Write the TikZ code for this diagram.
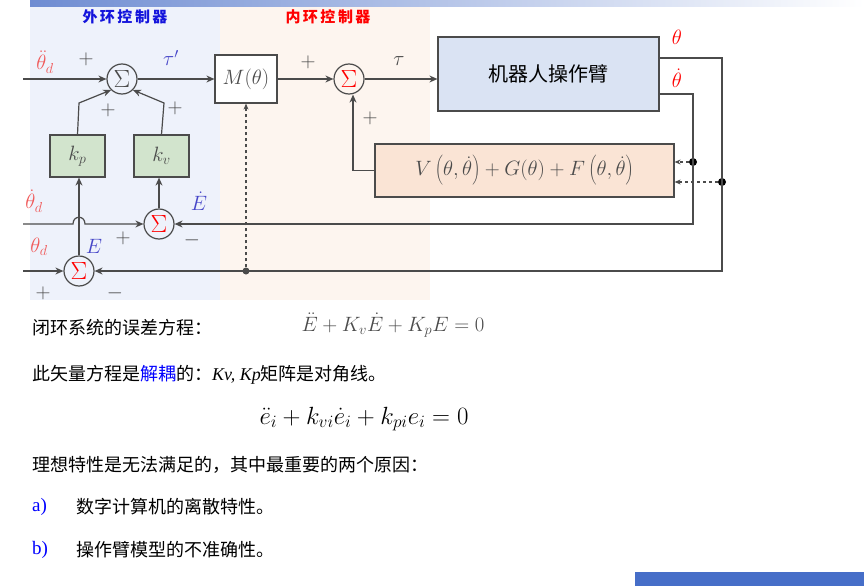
\documentclass[tikz,border=0pt]{standalone}
\usepackage{fontspec}
\newfontfamily\cjk{Noto Sans CJK SC}
\usetikzlibrary{arrows.meta}
\definecolor{ln}{RGB}{75,75,75}
\definecolor{pblue}{RGB}{238,242,251}
\definecolor{porange}{RGB}{253,245,239}
\definecolor{robot}{RGB}{218,227,243}
\definecolor{vbox}{RGB}{250,228,213}
\definecolor{kbox}{RGB}{210,228,205}
\definecolor{lab}{RGB}{240,90,90}
\definecolor{blab}{RGB}{70,70,200}
\definecolor{barblue}{RGB}{110,140,210}
\definecolor{titleblue}{RGB}{20,20,220}
\definecolor{footblue}{RGB}{70,110,200}
\tikzset{
  sumnode/.style={circle,draw=ln,line width=1.2pt,minimum size=30pt,inner sep=0pt,font=\fontsize{26}{26}\selectfont},
  blk/.style={draw=ln,line width=1.2pt,inner sep=0pt},
  sig/.style={ln,line width=1.2pt,-{Stealth[length=8pt,width=7pt]}},
  dsig/.style={ln,line width=1.1pt,dashed,-{Stealth[length=6pt,width=5pt]}},
  dot/.style={circle,fill=black,inner sep=0pt,minimum size=8pt},
  ldot/.style={circle,fill=ln,inner sep=0pt,minimum size=7pt},
  pm/.style={text=ln,font=\fontsize{20}{20}\selectfont},
  big/.style={font=\fontsize{21}{22}\selectfont},
  txt/.style={anchor=west,font=\cjk\fontsize{18}{20}\selectfont,text=black,inner sep=0pt}
}
\begin{document}
\begin{tikzpicture}[x=1pt,y=-1pt]
\useasboundingbox (0,0) rectangle (864,586);
\shade[left color=barblue,right color=white] (30,0) rectangle (864,7);
\fill[pblue] (30,7) rectangle (220,300);
\fill[porange] (220,7) rectangle (430,300);
\node[text=titleblue,font=\cjk\bfseries\fontsize{15}{15}\selectfont] (t1) at (125,17) {外\,环\,控\,制\,器};
\node[text=red,font=\cjk\bfseries\fontsize{15}{15}\selectfont] (t2) at (328,17) {内\,环\,控\,制\,器};

% nodes
\node[sumnode,text=ln] (s1) at (122,79) {$\Sigma$};
\node[sumnode,text=red] (s2) at (349,79) {$\Sigma$};
\node[sumnode,text=red] (s3) at (79,271) {$\Sigma$};
\node[sumnode,text=red] (s4) at (159,224) {$\Sigma$};
\node[blk,fill=white,minimum width=62pt,minimum height=48pt,big,text=ln] (M) at (246,79) {$M(\theta)$};
\node[blk,fill=robot,minimum width=221pt,minimum height=74pt,font=\cjk\fontsize{20}{20}\selectfont] (R) at (548.5,74) {机器人操作臂};
\node[blk,fill=vbox,minimum width=299pt,minimum height=53pt,font=\fontsize{20}{22}\selectfont,text=ln] (V) at (524.5,170.5) {$V\left(\theta,\dot\theta\right)+G(\theta)+F\left(\theta,\dot\theta\right)$};
\node[blk,fill=kbox,minimum width=55pt,minimum height=42pt,big,text=ln] (kp) at (77.5,156) {$k_p$};
\node[blk,fill=kbox,minimum width=55pt,minimum height=42pt,big,text=ln] (kv) at (161.5,156) {$k_v$};

\coordinate (in1) at (23,79);
\coordinate (in2) at (23,224);
\coordinate (in3) at (23,271);
\coordinate (o1) at (722,58);
\coordinate (o1b) at (722,271);
\coordinate (o2) at (693,94);
\coordinate (o2b) at (693,224);
\node[dot] (d1) at (693,162) {};
\node[dot] (d2) at (722,182) {};
\node[ldot] (d3) at (246,271) {};

% labels
\node[text=lab,big] (l1) at (45,62) {$\ddot\theta_d$};
\node[text=lab,big] (l2) at (34,201) {$\dot\theta_d$};
\node[text=lab,big] (l3) at (39,247) {$\theta_d$};
\node[text=blab,big] (l4) at (171,58) {$\tau'$};
\node[text=ln,big] (l5) at (399,61) {$\tau$};
\node[text=blab,big] (l6) at (199,201) {$\dot E$};
\node[text=blab,big] (l7) at (94,246) {$E$};
\node[text=red,big] (l8) at (677,37) {$\theta$};
\node[text=red,big] (l9) at (677,78) {$\dot\theta$};
\node[pm] at (86,59) {$+$};
\node[pm] at (108,110) {$+$};
\node[pm] at (175,108) {$+$};
\node[pm] at (308,62) {$+$};
\node[pm] at (370,118) {$+$};
\node[pm] at (123,238) {$+$};
\node[pm] at (192,240) {$-$};
\node[pm] at (43,293) {$+$};
\node[pm] at (115,293) {$-$};

% connectors
\draw[sig] (in1) -- (s1);
\draw[sig] (s1) -- (M);
\draw[sig] (M) -- (s2);
\draw[sig] (s2) -- (R.west|-s2);
\draw[sig] (kp.north) -- (79,103) -- (s1.225);
\draw[sig] (kv.north) -- (164,103) -- (s1.315);
\draw[sig] (s4) -- (s4|-kv.south);
\draw[sig] (s3) -- (s3|-kp.south);
\draw[sig] (in3) -- (s3);
\draw[sig] (in2) -- (73,224) .. controls (73,215) and (85,215) .. (85,224) -- (s4);
\draw[sig] (R.east|-o1) -- (o1) -- (o1b) -- (s3);
\draw[sig] (R.east|-o2) -- (o2) -- (o2b) -- (s4);
\draw[sig] (V.west) -- (353,170.5) -- (s2.south-|353,0);
\draw[dsig] (d1) -- (d1-|V.east);
\draw[dsig] (d2) -- (d2-|V.east);
\draw[dsig] (d3) -- (M.south);

% text
\node[txt] (a) at (32,328) {闭环系统的误差方程：};
\node[anchor=west,font=\fontsize{21}{22}\selectfont,text=ln] (a2) at (298,325) {$\ddot E+K_v\dot E+K_pE=0$};
\node[txt] (b) at (32,375) {此矢量方程是\textcolor{blue}{解耦}的：{\fontspec{Liberation Serif}\itshape Kv, Kp}矩阵是对角线。};
\node[font=\fontsize{26}{28}\selectfont] (c) at (364,419) {$\ddot e_i+k_{vi}\dot e_i+k_{pi}e_i=0$};
\node[txt] (d) at (32,465) {理想特性是无法满足的，其中最重要的两个原因：};
\node[txt,text=blue,font=\fontspec{Liberation Serif}\fontsize{19}{20}\selectfont] (e1) at (32,507) {a)};
\node[txt] (e) at (76,507) {数字计算机的离散特性。};
\node[txt,text=blue,font=\fontspec{Liberation Serif}\fontsize{19}{20}\selectfont] (f1) at (32,550) {b)};
\node[txt] (f) at (76,550) {操作臂模型的不准确性。};
\fill[footblue] (635,572) rectangle (864,586);
\end{tikzpicture}
\end{document}
